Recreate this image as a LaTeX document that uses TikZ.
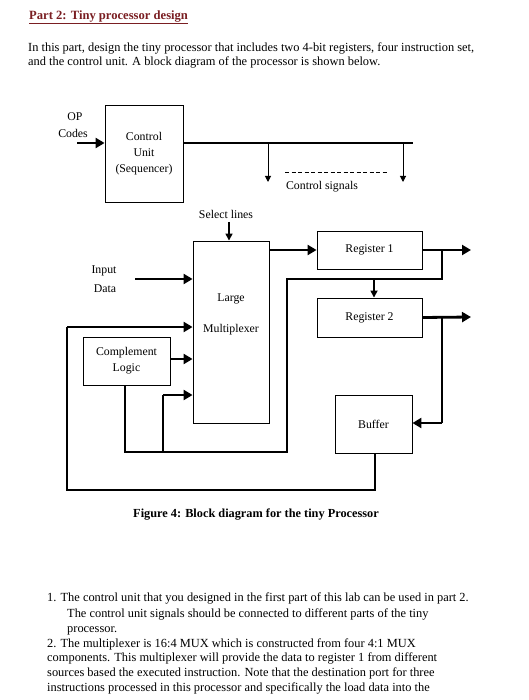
\documentclass[tikz,border=0pt]{standalone}
\usepackage{fontspec}
\setmainfont{Liberation Serif}
\usetikzlibrary{arrows.meta}
\definecolor{titlered}{HTML}{7A1E22}
\tikzset{
  blk/.style={draw, line width=0.9pt, inner sep=0pt, align=center, font=\fontsize{11.8}{14}\selectfont},
  thickline/.style={line width=2.8pt},
  thickarrow/.style={line width=2.8pt, -{Triangle[length=9pt,width=10pt]}},
  thinarrow/.style={line width=1pt, -{Triangle[length=6pt,width=6pt]}},
  midarrow/.style={line width=1.6pt, -{Triangle[length=7pt,width=7pt]}},
  lbl/.style={font=\fontsize{11.8}{14}\selectfont, inner sep=0pt, align=center},
  body/.style={font=\fontsize{12.4}{14}\selectfont, inner sep=0pt, anchor=base west},
}
\begin{document}
\begin{tikzpicture}[x=1pt,y=-1pt]
\useasboundingbox[fill=white] (0,0) rectangle (529,700);

% header text
\node[body, font=\fontsize{12.6}{14}\bfseries\selectfont, text=titlered] (title) at (29,20) {Part 2: Tiny processor design};
\draw[titlered, line width=0.8pt] (title.south west) ++(0,0.5) coordinate (ul1) -- (ul1 -| title.south east);
\node[body] (p1) at (28,52) {In this part, design the tiny processor that includes two 4-bit registers, four instruction set,};
\node[body] (p2) at (28,66) {and the control unit. A block diagram of the processor is shown below.};

% blocks
\node[blk, minimum width=78pt, minimum height=97pt] (ctrl) at (144,153.5) {Control\\[2pt]Unit\\[2pt](Sequencer)};
\node[blk, minimum width=76pt, minimum height=182pt] (mux) at (231,332) {};
\node[lbl] (muxtxt) at (231,314) {Large\\[17pt]Multiplexer};
\node[blk, minimum width=105pt, minimum height=38pt] (reg1) at (369.5,250) {Register 1};
\node[blk, minimum width=105pt, minimum height=39pt] (reg2) at (369.5,317.5) {Register 2};
\node[blk, minimum width=87pt, minimum height=48pt] (comp) at (126.5,361) {Complement\\[2pt]Logic};
\node[blk, minimum width=77pt, minimum height=58pt] (buf) at (373.5,424) {Buffer};

% labels
\node[lbl] (op) at (75,117) {OP};
\node[lbl] (codes) at (73,133) {Codes};
\node[lbl] (csig) at (322,187) {Control signals};
\node[lbl] (sel) at (226,214) {Select lines};
\node[lbl] (inp) at (104,271) {Input};
\node[lbl] (dat) at (105,289) {Data};

% control bus
\coordinate (opstart) at (77,143);
\draw[thickarrow] (opstart) -- (opstart -| ctrl.west);
\coordinate (busend) at (413,143);
\draw[line width=1.2pt] (busend -| ctrl.east) -- (busend);
\coordinate (tap1) at (268,143);
\coordinate (tap1e) at (268,182);
\coordinate (tap2) at (403,143);
\coordinate (tap2e) at (403,182);
\draw[thinarrow] (tap1) -- (tap1e);
\draw[thinarrow] (tap2) -- (tap2e);
\coordinate (dash1) at (285,172);
\coordinate (dash2) at (388,172);
\draw[line width=0.9pt, dash pattern=on 4pt off 2.5pt] (dash1) -- (dash2);

% select lines
\coordinate (selstart) at (229,222);
\draw[midarrow] (selstart) -- (selstart |- mux.north);

% input data
\coordinate (instart) at (135,279);
\draw[thickarrow] (instart) -- (instart -| mux.west);

% mux to register 1
\draw[thickarrow] (mux.east |- reg1.west) -- (reg1.west);
% register 1 out
\coordinate (r1out) at (471,250);
\draw[thickarrow] (reg1.east) -- (r1out);
\coordinate (j1) at (442,250);
\coordinate (fb1) at (287,279);
\coordinate (fb2) at (287,452);
\coordinate (fb3) at (125,452);
\draw[thickline, line join=miter] (j1) -- (j1 |- fb1) -- (fb1) -- (fb2) -- (fb3) -- (fb3 |- comp.south);
\coordinate (r2tap) at (374,279);
\draw[midarrow] (r2tap) -- (r2tap |- reg2.north);
% branch to mux
\coordinate (br1) at (163,452);
\coordinate (br2) at (163,395);
\draw[thickline, line join=miter] (br1) -- (br2);
\draw[thickarrow] (br2) -- (br2 -| mux.west);
% complement to mux
\coordinate (cmpout) at (170,359);
\draw[thickarrow] (cmpout -| comp.east) -- (cmpout -| mux.west);

% register 2 out
\coordinate (r2out) at (471,317);
\draw[thickarrow] (reg2.east) -- (r2out);
\coordinate (j2) at (442,317);
\coordinate (j3) at (442,423);
\draw[thickline, line join=miter] (j2) -- (j3);
\draw[thickarrow] (j3) -- (j3 -| buf.east);

% buffer to mux
\coordinate (b1) at (375,490);
\coordinate (b2) at (67,490);
\coordinate (b3) at (67,327);
\draw[thickline, line join=miter] (b1 |- buf.south) -- (b1) -- (b2) -- (b3);
\draw[thickarrow] (b3) -- (b3 -| mux.west);

% caption
\node[font=\fontsize{12.3}{14}\bfseries\selectfont, inner sep=0pt, anchor=base] (cap) at (256,517) {Figure 4: Block diagram for the tiny Processor};

% list
\node[body] (l1) at (47,601) {1. The control unit that you designed in the first part of this lab can be used in part 2.};
\node[body] (l2) at (67,617) {The control unit signals should be connected to different parts of the tiny};
\node[body] (l3) at (67,632) {processor.};
\node[body] (l4) at (47,647) {2. The multiplexer is 16:4 MUX which is constructed from four 4:1 MUX};
\node[body] (l5) at (47,661) {components. This multiplexer will provide the data to register 1 from different};
\node[body] (l6) at (47,676) {sources based the executed instruction. Note that the destination port for three};
\node[body] (l7) at (47,691) {instructions processed in this processor and specifically the load data into the};
\end{tikzpicture}
\end{document}
